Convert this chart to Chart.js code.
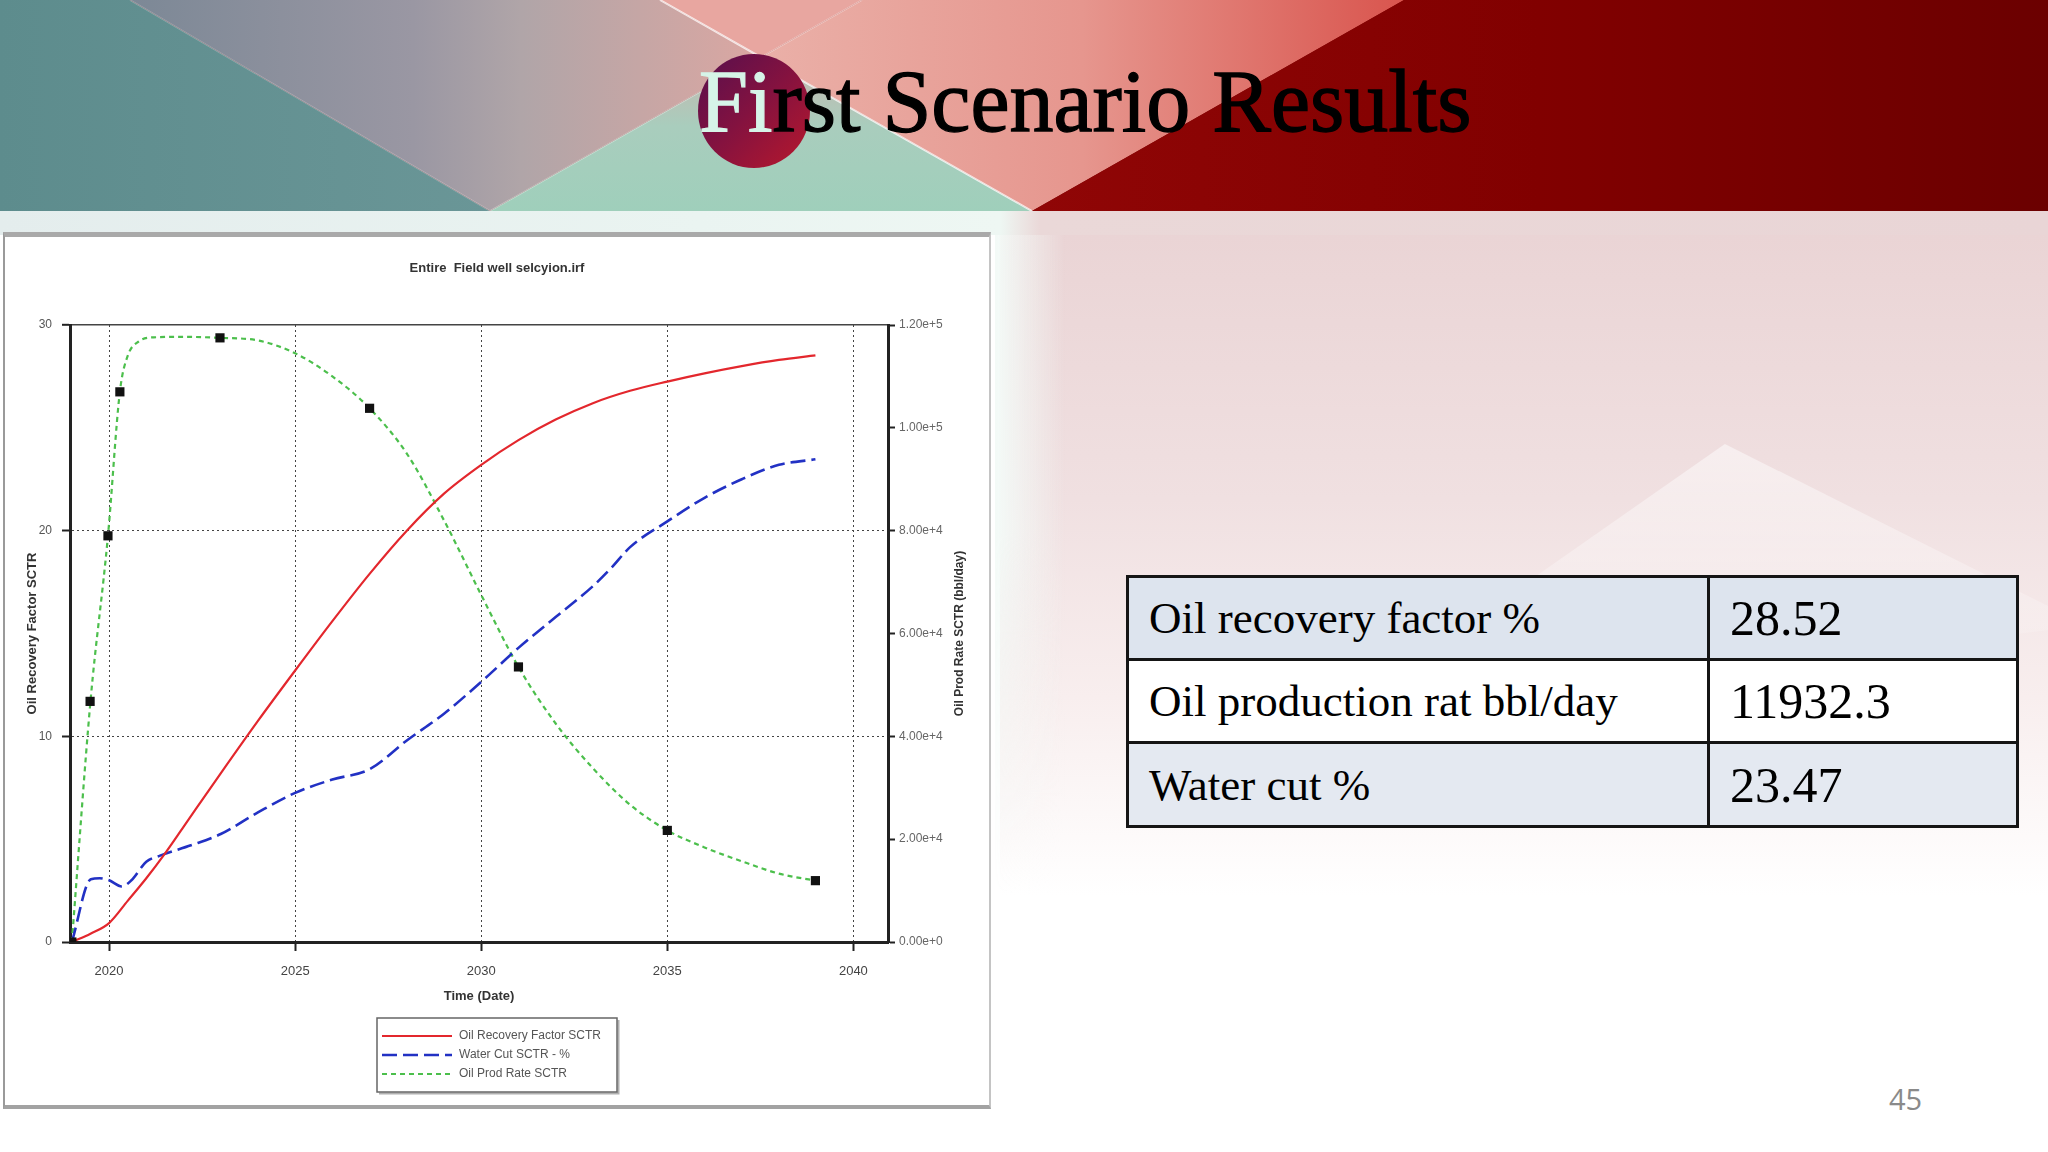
<!DOCTYPE html>
<html><head><meta charset="utf-8">
<script src="https://cdn.jsdelivr.net/npm/chart.js@4.4.1/dist/chart.umd.min.js"></script>
<style>
html,body{margin:0;padding:0;}
body{width:2048px;height:1152px;position:relative;overflow:hidden;background:#fff;font-family:'Liberation Sans',Arial,sans-serif;}
#banner{position:absolute;left:0;top:0;}
#strip{position:absolute;left:0;top:211px;width:2048px;height:24px;background:linear-gradient(to right,#e4eded 0px,#eaf4f1 700px,#eef7f3 1000px,#ead8d8 1040px,#e9d5d6 2048px);}
#pink{position:absolute;left:1000px;top:235px;width:1048px;height:660px;background:linear-gradient(to bottom,#ead4d5 0%,#f0e0e1 40%,#f8eeee 70%,#ffffff 100%);}
#pinkfade{position:absolute;left:995px;top:235px;width:70px;height:660px;background:linear-gradient(to right,#f3faf7,rgba(243,250,247,0));-webkit-mask-image:linear-gradient(to bottom,#000 0%,#000 45%,transparent 100%);mask-image:linear-gradient(to bottom,#000 0%,#000 45%,transparent 100%);}
#tri{position:absolute;left:1330px;top:420px;width:718px;height:300px;background:linear-gradient(to bottom,rgba(255,255,255,0.55),rgba(255,255,255,0));clip-path:polygon(55% 8%,0% 100%,100% 70%,100% 62%);}
#circle{position:absolute;left:698px;top:54px;width:112px;height:114px;border-radius:50%;background:linear-gradient(135deg,#560f4e 0%,#85123f 50%,#b8182c 100%);}
#title{position:absolute;left:699px;top:58px;font:88px/88px 'Liberation Serif','Times New Roman',serif;color:#000;white-space:nowrap;-webkit-text-stroke:1.3px #000;}
#title .fi{color:#d6f4e8;-webkit-text-stroke:1.3px #d6f4e8;}
#panel{position:absolute;left:3px;top:232px;width:988px;height:877px;box-sizing:border-box;border-top:5px solid #a9a9a9;border-bottom:4px solid #a2a2a2;border-left:2px solid #9a9a9a;border-right:2px solid #c4c4c4;background:#fff;}
#panel canvas{display:block;}
#tbl{position:absolute;left:1126px;top:575px;border-collapse:collapse;font-family:'Liberation Serif','Times New Roman',serif;color:#000;}
#tbl td{border:3px solid #151515;padding:0 0 0 20px;vertical-align:middle;white-space:nowrap;}
#tbl td.l{width:558px;font-size:45px;}
#tbl td.v{width:286px;font-size:50px;}
#tbl tr{height:83px;}
#tbl tr.a{background:#dde4ee;}
#tbl tr.b{background:#ffffff;}
#tbl tr.c{background:#e4e9f1;}
#pg{position:absolute;left:1889px;top:1079px;font:29px/40px 'Open Sans',sans-serif;color:#8a8a8a;}
</style></head>
<body>
<svg id="banner" width="2048" height="211" viewBox="0 0 2048 211">
<defs>
<linearGradient id="gTeal" x1="0" y1="0" x2="490" y2="0" gradientUnits="userSpaceOnUse"><stop offset="0" stop-color="#5d8c8d"/><stop offset="1" stop-color="#6a9697"/></linearGradient>
<linearGradient id="gMauve" x1="130" y1="0" x2="760" y2="0" gradientUnits="userSpaceOnUse"><stop offset="0" stop-color="#7c8896"/><stop offset="0.45" stop-color="#9a97a3"/><stop offset="0.62" stop-color="#b0a5a8"/><stop offset="1" stop-color="#dba7a2"/></linearGradient>
<linearGradient id="gMint" x1="0" y1="57" x2="0" y2="211" gradientUnits="userSpaceOnUse"><stop offset="0" stop-color="#c9b5ad"/><stop offset="0.45" stop-color="#a9cdbd"/><stop offset="1" stop-color="#9fcfbb"/></linearGradient>
<linearGradient id="gSalmon" x1="760" y1="0" x2="1404" y2="0" gradientUnits="userSpaceOnUse"><stop offset="0" stop-color="#eab0a8"/><stop offset="0.5" stop-color="#e6968e"/><stop offset="1" stop-color="#d9554e"/></linearGradient>
<linearGradient id="gRed" x1="1032" y1="0" x2="2048" y2="0" gradientUnits="userSpaceOnUse"><stop offset="0" stop-color="#900606"/><stop offset="0.5" stop-color="#810000"/><stop offset="1" stop-color="#6b0000"/></linearGradient>
</defs>
<rect x="0" y="0" width="2048" height="211" fill="#7a0000"/>
<polygon points="0,0 130,0 490,211 0,211" fill="url(#gTeal)"/>
<polygon points="130,0 660,0 761,57 490,211" fill="url(#gMauve)"/>
<polygon points="761,57 490,211 1032,211" fill="url(#gMint)"/>
<polygon points="660,0 862,0 761,57" fill="#e8a6a0"/>
<polygon points="862,0 1404,0 1032,211 761,57" fill="url(#gSalmon)"/>
<polygon points="1404,0 2048,0 2048,211 1032,211" fill="url(#gRed)"/>
<line x1="660" y1="0" x2="1032" y2="211" stroke="#fff" stroke-opacity="0.75" stroke-width="2"/>
<line x1="862" y1="0" x2="490" y2="211" stroke="#fff" stroke-opacity="0.35" stroke-width="1.5"/>
<line x1="130" y1="0" x2="490" y2="211" stroke="#fff" stroke-opacity="0.25" stroke-width="1.5"/>
</svg>
<div id="strip"></div>
<div id="pink"></div>
<div id="pinkfade"></div>
<div id="tri"></div>
<div id="circle"></div>
<div id="title"><span class="fi">Fi</span>rst Scenario Results</div>

<div id="panel"><canvas id="c" width="984" height="868" style="width:984px;height:868px"></canvas></div>

<table id="tbl">
<tr class="a"><td class="l">Oil recovery factor %</td><td class="v">28.52</td></tr>
<tr class="b"><td class="l">Oil production rat bbl/day</td><td class="v">11932.3</td></tr>
<tr class="c" style="height:84px"><td class="l">Water cut %</td><td class="v">23.47</td></tr>
</table>
<div id="pg">45</div>

<script>
// ---- data ----
const chartTitle = 'Entire  Field well selcyion.irf';
const seriesNames = ['Oil Recovery Factor SCTR', 'Water Cut SCTR - %', 'Oil Prod Rate SCTR'];
const xAxisTitle = 'Time (Date)';
const leftAxisTitle = 'Oil Recovery Factor SCTR';
const rightAxisTitle = 'Oil Prod Rate SCTR (bbl/day)';
const xTickValues = [2020, 2025, 2030, 2035, 2040];

const recoveryYears  = [2019.0, 2019.5, 2020.0, 2020.5, 2021.0, 2021.5, 2022.0, 2023.0, 2024.0, 2025.0, 2026.0, 2027.0, 2028.0, 2029.0, 2030.0, 2031.0, 2032.0, 2033.0, 2034.0, 2035.0, 2036.0, 2037.0, 2038.0, 2038.98];
const recoveryFactor = [0, 0.4, 0.92, 2.0, 3.1, 4.3, 5.6, 8.2, 10.75, 13.2, 15.6, 17.9, 20.0, 21.8, 23.2, 24.4, 25.4, 26.2, 26.8, 27.25, 27.65, 28.0, 28.3, 28.52];

const waterYears = [2019.0, 2019.51, 2019.75, 2020.0, 2020.34, 2020.6, 2021.0, 2021.37, 2022.2, 2023.0, 2024.0, 2025.0, 2026.0, 2027.0, 2028.0, 2029.0, 2030.0, 2031.0, 2032.0, 2033.0, 2033.5, 2034.0, 2035.0, 2036.0, 2037.0, 2038.0, 2038.98];
const waterCut   = [0, 3.05, 3.1, 3.0, 2.7, 3.0, 3.9, 4.2, 4.7, 5.25, 6.3, 7.25, 7.9, 8.4, 9.8, 11.1, 12.65, 14.3, 15.8, 17.3, 18.2, 19.2, 20.45, 21.6, 22.5, 23.2, 23.47];

const prodYears = [2019.0, 2019.5, 2019.97, 2020.29, 2020.5, 2020.8, 2021.2, 2022.0, 2022.98, 2024.0, 2025.0, 2026.0, 2027.0, 2028.0, 2029.0, 2030.0, 2031.0, 2032.0, 2033.0, 2034.0, 2035.0, 2036.0, 2037.0, 2038.0, 2038.98];
const prodRate  = [0, 46800, 79000, 107000, 114000, 116800, 117600, 117700, 117500, 117000, 114500, 110000, 103800, 95000, 82000, 67500, 53500, 42500, 33800, 26700, 21700, 18400, 15700, 13300, 11932];

const markerYears = [2019.0, 2019.49, 2019.97, 2020.29, 2022.98, 2027.0, 2031.0, 2035.0, 2038.98];
const markerRates = [0, 46800, 79000, 107000, 117500, 103800, 53500, 21700, 11932];

// ---- chart ----
Chart.defaults.font.family = "'Liberation Sans', Arial, sans-serif";
const pts = (xs, ys) => xs.map((x, i) => ({x: x, y: ys[i]}));

const extras = {
  id: 'extras',
  afterDraw(chart) {
    const {ctx, chartArea: a} = chart;
    ctx.save();
    ctx.translate(955, (a.top + a.bottom) / 2);
    ctx.rotate(-Math.PI / 2);
    ctx.font = "bold 12px 'Liberation Sans', Arial, sans-serif";
    ctx.fillStyle = '#333';
    ctx.textAlign = 'center';
    ctx.textBaseline = 'middle';
    ctx.fillText(rightAxisTitle, 0, 0);
    ctx.restore();

    // legend box
    const bx = 372, by = 781, bw = 240, bh = 74;
    ctx.save();
    ctx.fillStyle = '#fff';
    ctx.fillRect(bx, by, bw, bh);
    ctx.strokeStyle = '#b0b0b0';
    ctx.lineWidth = 2;
    ctx.beginPath(); ctx.moveTo(bx + 2, by + bh + 1.5); ctx.lineTo(bx + bw + 1.5, by + bh + 1.5); ctx.lineTo(bx + bw + 1.5, by + 2); ctx.stroke();
    ctx.strokeStyle = '#666';
    ctx.lineWidth = 1.5;
    ctx.strokeRect(bx, by, bw, bh);
    const rows = [799, 818, 837];
    ctx.font = "12px 'Liberation Sans', Arial, sans-serif";
    ctx.textBaseline = 'middle';
    ctx.textAlign = 'left';
    for (let i = 0; i < 3; i++) {
      const ds = chart.data.datasets[i];
      ctx.setLineDash(ds.borderDash || []);
      ctx.strokeStyle = ds.borderColor;
      ctx.lineWidth = ds.borderWidth;
      ctx.beginPath(); ctx.moveTo(377, rows[i]); ctx.lineTo(447, rows[i]); ctx.stroke();
      ctx.setLineDash([]);
      ctx.fillStyle = '#555';
      ctx.fillText(ds.label, 454, rows[i]);
    }
    ctx.restore();
  }
};

new Chart(document.getElementById('c'), {
  type: 'line',
  data: {
    datasets: [
      {label: seriesNames[0], data: pts(recoveryYears, recoveryFactor), yAxisID: 'y', borderColor: '#e3272d', borderWidth: 2.2, pointRadius: 0, cubicInterpolationMode: 'monotone', order: 1},
      {label: seriesNames[1], data: pts(waterYears, waterCut), yAxisID: 'y', borderColor: '#2231c4', borderWidth: 2.6, borderDash: [15, 6], pointRadius: 0, cubicInterpolationMode: 'monotone', order: 2},
      {label: seriesNames[2], data: pts(prodYears, prodRate), yAxisID: 'y1', borderColor: '#4cbf4c', borderWidth: 2.2, borderDash: [5, 4], pointRadius: 0, cubicInterpolationMode: 'monotone', order: 3},
      {label: 'markers', type: 'scatter', data: pts(markerYears, markerRates), yAxisID: 'y1', pointStyle: 'rect', pointRadius: 6.5, backgroundColor: '#111', borderColor: '#111', borderWidth: 0, order: 0}
    ]
  },
  options: {
    responsive: false,
    animation: false,
    devicePixelRatio: 1,
    layout: {padding: 0},
    plugins: {
      legend: {display: false},
      tooltip: {enabled: false},
      title: {display: true, text: chartTitle, color: '#333', font: {size: 13, weight: 'bold'}, padding: {top: 24, bottom: 48.4}}
    },
    scales: {
      x: {
        type: 'linear', position: 'bottom', min: 2018.95, max: 2040.93,
        afterBuildTicks: s => { s.ticks = xTickValues.map(v => ({value: v})); },
        afterFit: s => { s.height = 163; },
        ticks: {callback: v => String(v), color: '#444', font: {size: 13}, padding: 13, maxRotation: 0},
        grid: {color: '#444', lineWidth: 1, tickLength: 9, tickColor: '#222', tickWidth: 2},
        border: {display: true, color: '#222', width: 3, dash: [2, 3]},
        title: {display: true, text: xAxisTitle, color: '#333', font: {size: 13, weight: 'bold'}, padding: {bottom: 101}}
      },
      y: {
        position: 'left', min: 0, max: 30,
        afterFit: s => { s.width = 65; },
        ticks: {stepSize: 10, color: '#555', font: {size: 12}, padding: 10},
        grid: {
          color: c => (c.tick && c.tick.value === 0) ? 'rgba(0,0,0,0)' : '#444',
          lineWidth: c => (c.tick && c.tick.value === 30) ? 1.6 : 1,
          tickLength: 8, tickColor: '#222', tickWidth: 2
        },
        border: {display: true, color: '#222', width: 3, dash: c => (c.tick && c.tick.value === 30) ? [] : [2, 3]},
        title: {display: true, text: leftAxisTitle, color: '#333', font: {size: 13, weight: 'bold'}, padding: {top: 20}}
      },
      y1: {
        position: 'right', min: 0, max: 120000,
        afterFit: s => { s.width = 101; },
        ticks: {stepSize: 20000, color: '#666', font: {size: 12}, padding: 4, callback: v => Number(v).toExponential(2)},
        grid: {drawOnChartArea: false, tickLength: 7, tickColor: '#222', tickWidth: 2},
        border: {display: true, color: '#222', width: 3}
      }
    }
  },
  plugins: [extras]
});
</script>
</body></html>
